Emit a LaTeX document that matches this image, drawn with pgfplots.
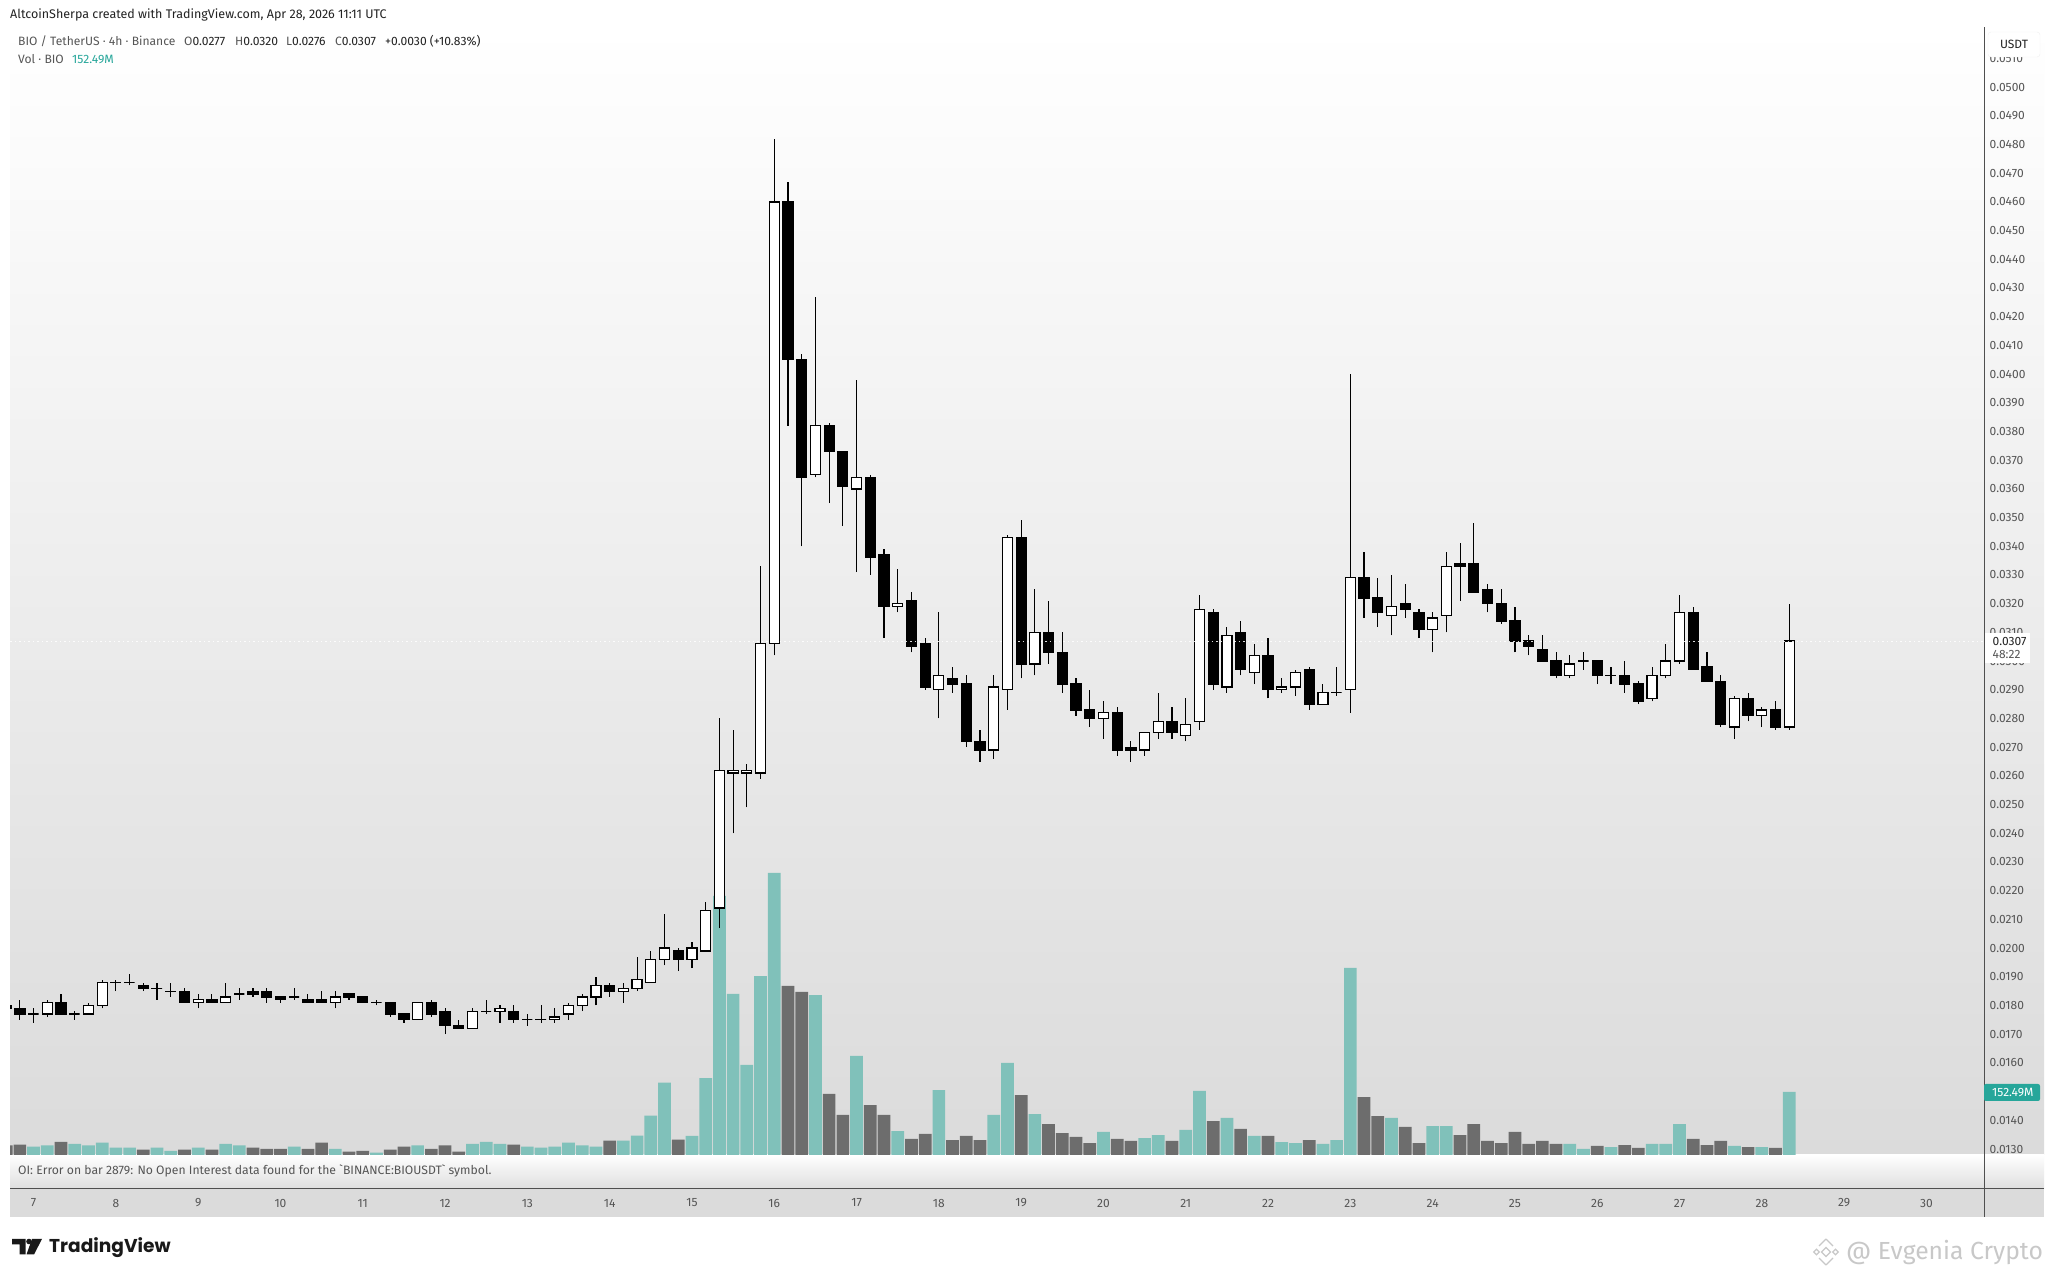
\documentclass[border=0pt]{standalone}
\usepackage{fontspec}
\setmainfont{Fira Sans}
\newfontfamily\tvfont{Poppins}
\usepackage{pgfplots}
\pgfplotsset{compat=1.18}
\definecolor{bgbot}{HTML}{DBDBDB}
\definecolor{stripbot}{HTML}{DEDEDE}
\definecolor{tlabel}{HTML}{555555}
\definecolor{tdark}{HTML}{222222}
\definecolor{lineaxis}{HTML}{4F4F4F}
\definecolor{volup}{HTML}{80C1BA}
\definecolor{voldown}{HTML}{6D6D6D}
\definecolor{tealbox}{HTML}{26A69A}
\definecolor{wm}{HTML}{C8C8C8}
% one candle: index, open, high, low, close
\newcommand\candle[6]{%
  \pgfmathsetmacro\xl{#1-0.365}\pgfmathsetmacro\xr{#1+0.365}%
  \addplot[black,line width=1.15pt,forget plot] coordinates {(#1,#4)(#1,#3)};%
  \addplot[draw=black,fill=#6,line width=1.25pt,line cap=rect,line join=miter,forget plot] coordinates {(\xl,#2)(\xr,#2)(\xr,#5)(\xl,#5)(\xl,#2)};}
\newcommand\U[5]{\candle{#1}{#2}{#3}{#4}{#5}{white}}
\newcommand\D[5]{\candle{#1}{#2}{#3}{#4}{#5}{black}}
\newcommand\fs[1]{\fontsize{#1}{#1}\selectfont}
\begin{document}
\begin{tikzpicture}[x=1pt,y=1pt]
\path[use as bounding box] (0,0) rectangle (2054,1277);
\fill[white] (0,0) rectangle (2054,1277);
\shade[top color=white,bottom color=bgbot] (10,122) rectangle (2044,1250);
\shade[top color=white,bottom color=stripbot] (10,88) rectangle (2044,122);
\fill[bgbot] (10,60) rectangle (2044,88);
% volume
\begin{axis}[at={(10pt,122pt)},anchor=south west,scale only axis,width=1974pt,height=1128pt,
  xmin=-1.72,xmax=142.2,ymin=0,ymax=2730,hide axis,ybar,bar width=12.7pt]
\addplot[bar shift=0pt,fill=volup,draw=none] coordinates {
(0,20)(1,23)(3,27)(4,23)(5,30)(6,18)(7,18)(9,18)(10,10)(12,18)(14,27)(15,23)(19,20)(22,15)(25,6)(28,23)(32,27)(33,32)(34,27)(36,20)(37,18)(38,20)(39,30)(40,23)(41,20)(43,35)(44,47)(45,95)(46,175)(48,46)(49,186)(50,627)(51,390)(52,218)(53,433)(54,683)(57,387)(60,240)(63,58)(66,157)(70,97)(71,223)(73,99)(78,56)(81,41)(82,48)(84,61)(85,155)(87,90)(89,46)(91,31)(92,29)(94,27)(95,36)(96,453)(99,90)(102,70)(103,70)(112,27)(113,15)(115,19)(118,27)(119,27)(120,75)(124,22)(126,19)(128,152.49)};
\addplot[bar shift=0pt,fill=voldown,draw=none] coordinates {
(-2,23)(-1,25)(2,32)(8,13)(11,13)(13,13)(16,18)(17,15)(18,15)(20,15)(21,30)(23,8)(24,10)(26,13)(27,20)(29,15)(30,23)(31,8)(35,25)(42,35)(47,37)(55,409)(56,395)(58,148)(59,97)(61,121)(62,97)(64,39)(65,51)(67,36)(68,46)(69,36)(72,145)(74,75)(75,53)(76,44)(77,29)(79,39)(80,34)(83,34)(86,82)(88,63)(90,46)(93,36)(97,140)(98,94)(100,68)(101,29)(104,48)(105,75)(106,34)(107,29)(108,56)(109,27)(110,34)(111,27)(114,22)(116,24)(117,17)(121,39)(122,24)(123,34)(125,19)(127,17)};
\end{axis}
% price
\begin{axis}[at={(10pt,122pt)},anchor=south west,scale only axis,width=1974pt,height=1128pt,
  xmin=-1.72,xmax=142.2,ymin=0.012791,ymax=0.052094,
  axis line style={draw=none},tick style={draw=none},
  yticklabel pos=right,
  ytick={0.013,0.014,0.015,0.016,0.017,0.018,0.019,0.020,0.021,0.022,0.023,0.024,0.025,0.026,0.027,0.028,0.029,0.030,0.031,0.032,0.033,0.034,0.035,0.036,0.037,0.038,0.039,0.040,0.041,0.042,0.043,0.044,0.045,0.046,0.047,0.048,0.049,0.050,0.051},
  yticklabels={0.0130,0.0140,0.0150,0.0160,0.0170,0.0180,0.0190,0.0200,0.0210,0.0220,0.0230,0.0240,0.0250,0.0260,0.0270,0.0280,0.0290,0.0300,0.0310,0.0320,0.0330,0.0340,0.0350,0.0360,0.0370,0.0380,0.0390,0.0400,0.0410,0.0420,0.0430,0.0440,0.0450,0.0460,0.0470,0.0480,0.0490,0.0500,0.0510},
  xtick={0,6,...,138},
  xticklabels={7,8,9,10,11,12,13,14,15,16,17,18,19,20,21,22,23,24,25,26,27,28,29,30},
  yticklabel style={font=\fs{12},text=tlabel,anchor=west,xshift=5.5pt,inner sep=0pt},
  xticklabel style={font=\fs{12},text=tlabel,anchor=center,yshift=-48pt,inner sep=0pt},
]
\D{-2}{.0180}{.0181}{.0178}{.0179}
\D{-1}{.0179}{.0182}{.0175}{.0177}
\U{0}{.0177}{.0179}{.0174}{.0177}
\U{1}{.0177}{.0182}{.0176}{.0181}
\D{2}{.0181}{.0184}{.0177}{.0177}
\U{3}{.0177}{.0178}{.0175}{.0177}
\U{4}{.0177}{.0181}{.0177}{.0180}
\U{5}{.0180}{.0189}{.0179}{.0188}
\U{6}{.0188}{.0189}{.0185}{.0188}
\U{7}{.0188}{.0191}{.0187}{.0188}
\D{8}{.0187}{.0188}{.0185}{.0186}
\U{9}{.0186}{.0188}{.0182}{.0186}
\U{10}{.0185}{.0188}{.0183}{.0185}
\D{11}{.0185}{.0186}{.0181}{.0181}
\U{12}{.0181}{.0184}{.0179}{.0182}
\D{13}{.0182}{.0184}{.0181}{.0181}
\U{14}{.0181}{.0188}{.0181}{.0183}
\U{15}{.0184}{.0186}{.0182}{.0184}
\D{16}{.0185}{.0186}{.0183}{.0184}
\D{17}{.0185}{.0186}{.0181}{.0183}
\D{18}{.0183}{.0183}{.0181}{.0182}
\U{19}{.0183}{.0186}{.0182}{.0183}
\D{20}{.0182}{.0184}{.0181}{.0181}
\D{21}{.0182}{.0185}{.0181}{.0181}
\U{22}{.0181}{.0185}{.0179}{.0183}
\D{23}{.0184}{.0184}{.0182}{.0183}
\D{24}{.0183}{.0183}{.0181}{.0181}
\U{25}{.0181}{.0182}{.0180}{.0181}
\D{26}{.0181}{.0181}{.0176}{.0177}
\D{27}{.0177}{.0177}{.0174}{.0175}
\U{28}{.0175}{.0181}{.0175}{.0181}
\D{29}{.0181}{.0182}{.0176}{.0177}
\D{30}{.0178}{.0179}{.0170}{.0173}
\D{31}{.0173}{.0175}{.0172}{.0172}
\U{32}{.0172}{.0179}{.0172}{.0178}
\U{33}{.0178}{.0182}{.0177}{.0178}
\U{34}{.0178}{.0180}{.0174}{.0179}
\D{35}{.0178}{.0180}{.0174}{.0175}
\U{36}{.0175}{.0177}{.0173}{.0175}
\U{37}{.0175}{.0180}{.0174}{.0175}
\U{38}{.0175}{.0179}{.0174}{.0176}
\U{39}{.0177}{.0181}{.0175}{.0180}
\U{40}{.0180}{.0184}{.0178}{.0183}
\U{41}{.0183}{.0190}{.0180}{.0187}
\D{42}{.0187}{.0188}{.0183}{.0185}
\U{43}{.0185}{.0188}{.0181}{.0186}
\U{44}{.0186}{.0197}{.0185}{.0189}
\U{45}{.0188}{.0199}{.0188}{.0196}
\U{46}{.0196}{.0212}{.0194}{.0200}
\D{47}{.0199}{.0200}{.0192}{.0196}
\U{48}{.0196}{.0202}{.0193}{.0200}
\U{49}{.0199}{.0216}{.0199}{.0213}
\U{50}{.0214}{.0280}{.0207}{.0262}
\U{51}{.0261}{.0276}{.0240}{.0262}
\U{52}{.0261}{.0264}{.0249}{.0262}
\U{53}{.0261}{.0333}{.0259}{.0306}
\U{54}{.0306}{.0482}{.0302}{.0460}
\D{55}{.0460}{.0467}{.0382}{.0405}
\D{56}{.0405}{.0407}{.0340}{.0364}
\U{57}{.0365}{.0427}{.0364}{.0382}
\D{58}{.0382}{.0383}{.0355}{.0373}
\D{59}{.0373}{.0373}{.0347}{.0361}
\U{60}{.0360}{.0398}{.0331}{.0364}
\D{61}{.0364}{.0365}{.0330}{.0336}
\D{62}{.0337}{.0339}{.0308}{.0319}
\U{63}{.0319}{.0332}{.0317}{.0320}
\D{64}{.0321}{.0324}{.0303}{.0305}
\D{65}{.0306}{.0308}{.0290}{.0291}
\U{66}{.0290}{.0317}{.0280}{.0295}
\D{67}{.0294}{.0298}{.0289}{.0292}
\D{68}{.0292}{.0295}{.0270}{.0272}
\D{69}{.0272}{.0276}{.0265}{.0269}
\U{70}{.0269}{.0295}{.0266}{.0291}
\U{71}{.0290}{.0344}{.0283}{.0343}
\D{72}{.0343}{.0349}{.0294}{.0299}
\U{73}{.0299}{.0325}{.0295}{.0310}
\D{74}{.0310}{.0321}{.0299}{.0303}
\D{75}{.0303}{.0310}{.0289}{.0292}
\D{76}{.0292}{.0294}{.0281}{.0283}
\D{77}{.0283}{.0290}{.0277}{.0280}
\U{78}{.0280}{.0286}{.0273}{.0282}
\D{79}{.0282}{.0284}{.0267}{.0269}
\D{80}{.0270}{.0272}{.0265}{.0269}
\U{81}{.0269}{.0275}{.0267}{.0275}
\U{82}{.0275}{.0289}{.0273}{.0279}
\D{83}{.0279}{.0284}{.0273}{.0275}
\U{84}{.0274}{.0287}{.0272}{.0278}
\U{85}{.0279}{.0323}{.0276}{.0318}
\D{86}{.0317}{.0318}{.0290}{.0292}
\U{87}{.0291}{.0312}{.0289}{.0309}
\D{88}{.0310}{.0314}{.0295}{.0297}
\U{89}{.0296}{.0306}{.0292}{.0302}
\D{90}{.0302}{.0308}{.0287}{.0290}
\U{91}{.0290}{.0294}{.0289}{.0291}
\U{92}{.0291}{.0297}{.0288}{.0296}
\D{93}{.0297}{.0298}{.0283}{.0285}
\U{94}{.0285}{.0292}{.0285}{.0289}
\D{95}{.0289}{.0298}{.0288}{.0289}
\U{96}{.0290}{.0400}{.0282}{.0329}
\D{97}{.0329}{.0338}{.0315}{.0322}
\D{98}{.0322}{.0329}{.0312}{.0317}
\U{99}{.0316}{.0330}{.0309}{.0319}
\D{100}{.0320}{.0327}{.0315}{.0318}
\D{101}{.0317}{.0318}{.0308}{.0311}
\U{102}{.0311}{.0317}{.0303}{.0315}
\U{103}{.0316}{.0338}{.0310}{.0333}
\D{104}{.0334}{.0341}{.0321}{.0333}
\D{105}{.0334}{.0348}{.0324}{.0324}
\D{106}{.0325}{.0327}{.0317}{.0320}
\D{107}{.0320}{.0325}{.0313}{.0314}
\D{108}{.0314}{.0319}{.0303}{.0307}
\D{109}{.0307}{.0309}{.0302}{.0305}
\D{110}{.0304}{.0309}{.0300}{.0300}
\D{111}{.0300}{.0303}{.0294}{.0295}
\U{112}{.0295}{.0302}{.0294}{.0299}
\U{113}{.0300}{.0303}{.0297}{.0300}
\D{114}{.0300}{.0300}{.0292}{.0295}
\U{115}{.0295}{.0298}{.0292}{.0295}
\D{116}{.0295}{.0300}{.0289}{.0292}
\D{117}{.0292}{.0293}{.0285}{.0286}
\U{118}{.0287}{.0298}{.0286}{.0295}
\U{119}{.0295}{.0306}{.0294}{.0300}
\U{120}{.0300}{.0323}{.0299}{.0317}
\D{121}{.0317}{.0319}{.0297}{.0297}
\D{122}{.0298}{.0303}{.0293}{.0293}
\D{123}{.0293}{.0295}{.0277}{.0278}
\U{124}{.0277}{.0288}{.0273}{.0287}
\D{125}{.0287}{.0289}{.0279}{.0281}
\U{126}{.0281}{.0284}{.0277}{.0283}
\D{127}{.0283}{.0286}{.0276}{.0277}
\U{128}{.0277}{.0320}{.0276}{.0307}
\addplot[white,line width=0.7pt,dash pattern=on 1.5pt off 3pt,opacity=0.85] coordinates {(-1.72,.0307)(142.2,.0307)};
\end{axis}
% axis lines
\draw[lineaxis,line width=1pt] (1984,60) -- (1984,1250);
\draw[lineaxis,line width=1pt] (10,88) -- (2044,88);
% overlays on scale
\fill[white,rounded corners=3pt,draw=black!6] (1988,1220) rectangle (2040,1245);
\node[anchor=center,inner sep=0,font=\fs{12},text=tdark] at (2014,1232.5) {USDT};
\fill[white] (1985,614) rectangle (2030,644);
\node[anchor=west,inner sep=0,font=\fs{12},text=tdark] at (1992.5,635) {0.0307};
\node[anchor=west,inner sep=0,font=\fs{12},text=tlabel] at (1992.5,622) {48:22};
\fill[tealbox,rounded corners=2pt] (1984,176) rectangle (2040,193);
\node[anchor=west,inner sep=0,font=\fs{12},text=white] at (1992,184.5) {152.49M};
% texts
\node[anchor=west,inner sep=0,font=\fs{12.5},text=tdark] at (10,1262) {AltcoinSherpa created with TradingView.com, Apr 28, 2026 11:11 UTC};
\node[anchor=west,inner sep=0,font=\fs{12.1},text=tlabel] at (18,1236) {BIO / TetherUS · 4h · Binance};
\node[anchor=west,inner sep=0,font=\fs{12.1},text=tdark] at (184,1236) {\textcolor{tlabel}{O}0.0277};
\node[anchor=west,inner sep=0,font=\fs{12.1},text=tdark] at (235,1236) {\textcolor{tlabel}{H}0.0320};
\node[anchor=west,inner sep=0,font=\fs{12.1},text=tdark] at (286,1236) {\textcolor{tlabel}{L}0.0276};
\node[anchor=west,inner sep=0,font=\fs{12.1},text=tdark] at (335,1236) {\textcolor{tlabel}{C}0.0307};
\node[anchor=west,inner sep=0,font=\fs{12.1},text=tdark] at (385,1236) {+0.0030 (+10.83\%)};
\node[anchor=west,inner sep=0,font=\fs{12.1},text=tlabel] at (18,1218) {Vol · BIO};
\node[anchor=west,inner sep=0,font=\fs{12.1},text=tealbox] at (72,1218) {152.49M};
\node[anchor=west,inner sep=0,font=\fs{12.2},text=tlabel] at (18,106) {OI: Error on bar 2879: No Open Interest data found for the \textasciigrave BINANCE:BIOUSDT\textasciigrave{} symbol.};
% TradingView logo
\fill[black!90] (12,38) -- (25.5,38) -- (25.5,22.5) -- (19.5,22.5) -- (19.5,32.5) -- (12,32.5) -- cycle;
\fill[black!90] (29,35.5) circle (2.8);
\fill[black!90] (32,38) -- (42,38) -- (34,22.5) -- (26.5,22.5) -- cycle;
\node[anchor=west,inner sep=0,font=\tvfont\bfseries\fs{18.6},text=black!90] at (49,29) {TradingView};
% watermark
\node[anchor=west,inner sep=0,font=\fs{24.7},text=wm] at (1846,25) {@ Evgenia Crypto};
\begin{scope}[shift={(1826,25)},wm,line width=1.2pt]
\draw (0,-13) -- (7,-6) (0,-13) -- (-7,-6) (0,13) -- (7,6) (0,13) -- (-7,6);
\draw (0,-4.5) -- (4.5,0) -- (0,4.5) -- (-4.5,0) -- cycle;
\draw (-9.5,-2.8) -- (-6.7,0) -- (-9.5,2.8) -- (-12.3,0) -- cycle;
\draw (9.5,-2.8) -- (12.3,0) -- (9.5,2.8) -- (6.7,0) -- cycle;
\end{scope}
\end{tikzpicture}
\end{document}
